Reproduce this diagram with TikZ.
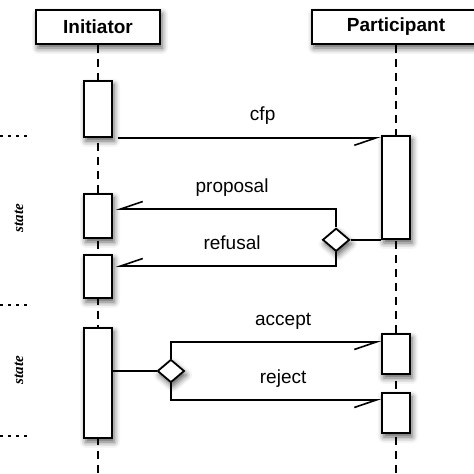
\documentclass[tikz,border=0pt]{standalone}
\usepackage{fontspec}
\setmainfont{Liberation Serif}
\setsansfont{Liberation Sans}
\usetikzlibrary{arrows.meta,shapes.geometric,shadows.blur}

\tikzset{
	soft shadow/.style = {
		blur shadow = {shadow xshift=2pt, shadow yshift=-4pt, shadow blur radius=6pt, shadow opacity=65}
	},
	role node/.style = {
		rectangle,
		draw = black,
		line width = 1.8pt,
		fill = white,
		minimum height = 34pt,
		font = \sffamily\bfseries\fontsize{19}{22}\selectfont,
		soft shadow
	},
	act node/.style = {
		rectangle,
		draw = black,
		line width = 1.8pt,
		fill = white,
		minimum width = 28pt,
		anchor = north,
		soft shadow
	},
	choice node/.style = {
		diamond,
		draw = black,
		line width = 1.8pt,
		fill = white,
		inner sep = 0pt,
		minimum width = 27pt,
		minimum height = 23pt,
		soft shadow
	},
	life line/.style = {
		line width = 1.8pt,
		dash pattern = on 8pt off 6pt
	},
	wire/.style = {
		line width = 1.6pt
	},
	msg/.style = {
		wire,
		-{Straight Barb[harpoon,swap,length=22pt,width=15pt,line width=1.6pt]}
	},
	msg label/.style = {
		anchor = base,
		yshift = 17pt,
		inner sep = 0pt,
		font = \sffamily\fontsize{19}{22}\selectfont
	},
	sep line/.style = {
		line width = 2pt,
		dash pattern = on 3pt off 5pt
	},
	state label/.style = {
		rotate = 90,
		font = \itshape\bfseries\fontsize{15}{17}\selectfont
	}
}

\begin{document}
\begin{tikzpicture}[x=1pt, y=-1pt]
	\useasboundingbox (0,0) rectangle (474,474);
	\clip (0,0) rectangle (474,474);

	% roles
	\node at (98,27)  [role node, minimum width=124pt] (ini) {Initiator};
	\node at (396,27) [role node, minimum width=168pt] (par) {Participant};

	% life lines
	\coordinate (ini end) at (98,474);
	\coordinate (par end) at (396,474);
	\draw[life line] (ini.south) -- (ini end);
	\draw[life line] (par.south) -- (par end);

	% activations
	\node at (98,80)   [act node, minimum height=56pt]  (i1) {};
	\node at (396,135) [act node, minimum height=103pt] (p1) {};
	\node at (98,193)  [act node, minimum height=44pt]  (i2) {};
	\node at (98,254)  [act node, minimum height=43pt]  (i3) {};
	\node at (98,327)  [act node, minimum height=110pt] (i4) {};
	\node at (396,333) [act node, minimum height=40pt]  (p2) {};
	\node at (396,392) [act node, minimum height=40pt]  (p3) {};

	% choices
	\node at ([xshift=-45pt]p1.south west)              [choice node] (d1) {};
	\node at ([xshift=58pt,yshift=-44pt]i4.north east)  [choice node] (d2) {};

	% messages
	\draw[msg] ([xshift=5pt]i1.south east) -- (i1.south east -| p1.west)
		node[msg label, pos=0.55] {cfp};
	\draw[wire] (d1.east) -- (d1.east -| p1.west);
	\draw[msg, shorten >=3pt] (d1.north) |- ([yshift=-16pt]i2.north east)
		node[msg label, pos=0.733] {proposal};
	\draw[msg, shorten >=3pt] (d1.south) |- ([yshift=-12pt]i3.north east)
		node[msg label, pos=0.733] {refusal};
	\draw[wire] (d2.west -| i4.east) -- (d2.west);
	\draw[msg] (d2.north) |- ([yshift=-9pt]p2.north west)
		node[msg label, pos=0.767] {accept};
	\draw[msg] (d2.south) |- ([yshift=-8pt]p3.north west)
		node[msg label, pos=0.767] {reject};

	% state bounds
	\coordinate (s1 a) at (0,136);   \coordinate (s1 b) at (28,136);
	\coordinate (s2 a) at (0,305);   \coordinate (s2 b) at (28,305);
	\coordinate (s3 a) at (0,436);   \coordinate (s3 b) at (28,436);
	\draw[sep line] (s1 a) -- (s1 b);
	\draw[sep line] (s2 a) -- (s2 b);
	\draw[sep line] (s3 a) -- (s3 b);
	\node at (19,218) [state label] (st1) {state};
	\node at (19,370) [state label] (st2) {state};
\end{tikzpicture}
\end{document}
